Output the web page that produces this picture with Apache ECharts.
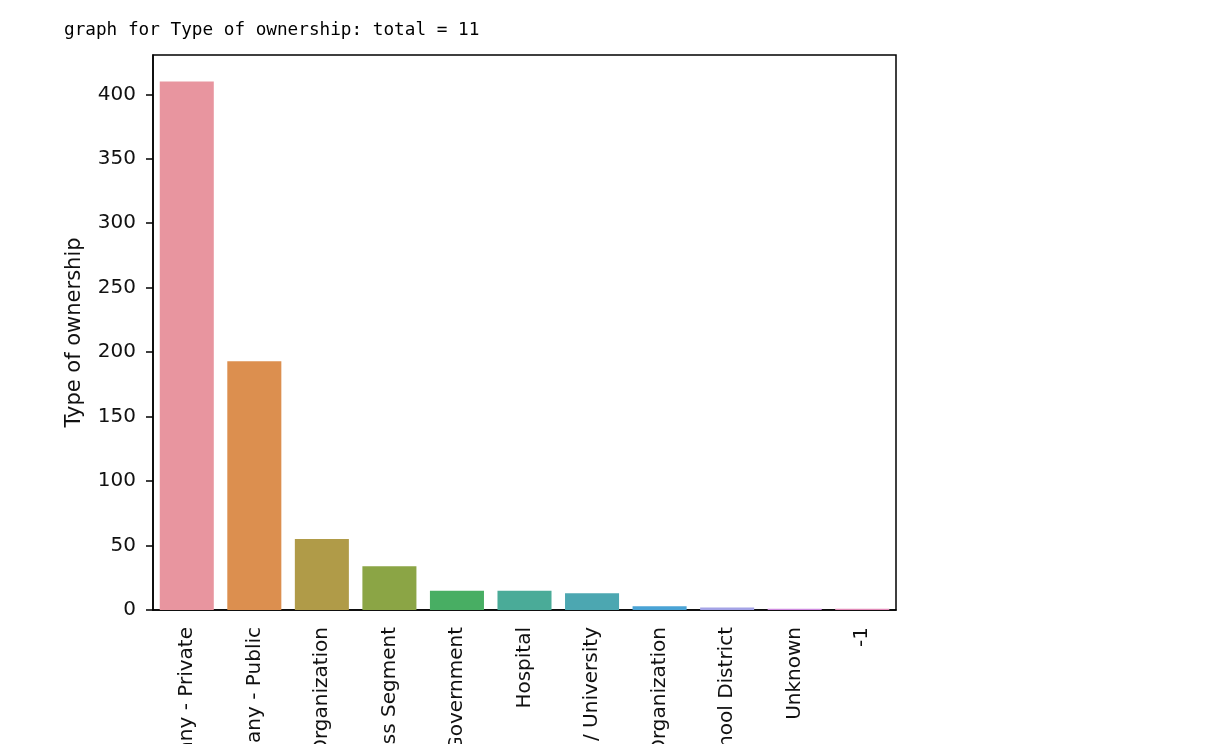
<!DOCTYPE html>
<html lang="en">
<head>
    <meta charset="UTF-8">
    <title>Type of ownership</title>
    <style>
        html, body { margin: 0; padding: 0; background: #fff; }
        #chart { width: 1209px; height: 744px; }
    </style>
</head>
<body>
<div id="chart"></div>

<script src="https://cdn.jsdelivr.net/npm/echarts@6/dist/echarts.min.js"></script>
<script>
    // counts per ownership type
    const categories = ['Company - Private', 'Company - Public', 'Nonprofit Organization',
        'Subsidiary or Business Segment', 'Government', 'Hospital', 'College / University',
        'Other Organization', 'School / School District', 'Unknown', '-1'];
    const counts = [410, 193, 55, 34, 15, 15, 13, 3, 2, 1, 1];
    const barColors = ['#e8959f', '#dc8f4f', '#b09b48', '#8ba545', '#48ae63', '#4aab98',
        '#4ca7b1', '#4aa3d5', '#a4a3e6', '#cf8bdf', '#e18bb8'];
    const yTicks = [0, 50, 100, 150, 200, 250, 300, 350, 400];

    const titleText = 'graph for Type of ownership: total = ' + categories.length;

    let chart = echarts.init(document.getElementById('chart'));

    const option = {
        animation: false,
        title: {
            text: titleText,
            left: 59,
            top: 16,
            textStyle: {
                fontFamily: 'DejaVu Sans Mono',
                fontSize: 17.7,
                fontWeight: 'normal',
                color: '#000'
            }
        },
        grid: {
            left: 153,
            right: 313,
            top: 55,
            bottom: 134,
            containLabel: false,
            outerBoundsMode: 'none',
            show: true,
            borderColor: '#000',
            borderWidth: 1.5,
            backgroundColor: 'transparent'
        },
        xAxis: {
            type: 'category',
            data: categories,
            axisLine: {lineStyle: {color: '#000', width: 1.5}},
            axisTick: {alignWithLabel: true, length: 7, lineStyle: {color: '#000', width: 1.5}},
            axisLabel: {
                rotate: 90,
                margin: 17,
                interval: 0,
                fontFamily: 'DejaVu Sans',
                fontSize: 20,
                color: '#111'
            }
        },
        yAxis: {
            type: 'value',
            min: 0,
            max: 430.5,
            interval: 50,
            name: 'Type of ownership',
            nameLocation: 'middle',
            nameGap: 68,
            nameTextStyle: {fontFamily: 'DejaVu Sans', fontSize: 21, color: '#111'},
            splitLine: {show: false},
            axisLine: {show: true, lineStyle: {color: '#000', width: 1.5}},
            axisTick: {show: true, length: 7, customValues: yTicks, lineStyle: {color: '#000', width: 1.5}},
            axisLabel: {
                customValues: yTicks,
                margin: 17,
                fontFamily: 'DejaVu Sans',
                fontSize: 20,
                color: '#111'
            }
        },
        series: [
            {
                type: 'bar',
                barCategoryGap: '20%',
                data: counts.map((v, i) => ({value: v, itemStyle: {color: barColors[i]}}))
            }
        ]
    };

    chart.setOption(option);
</script>
</body>
</html>
